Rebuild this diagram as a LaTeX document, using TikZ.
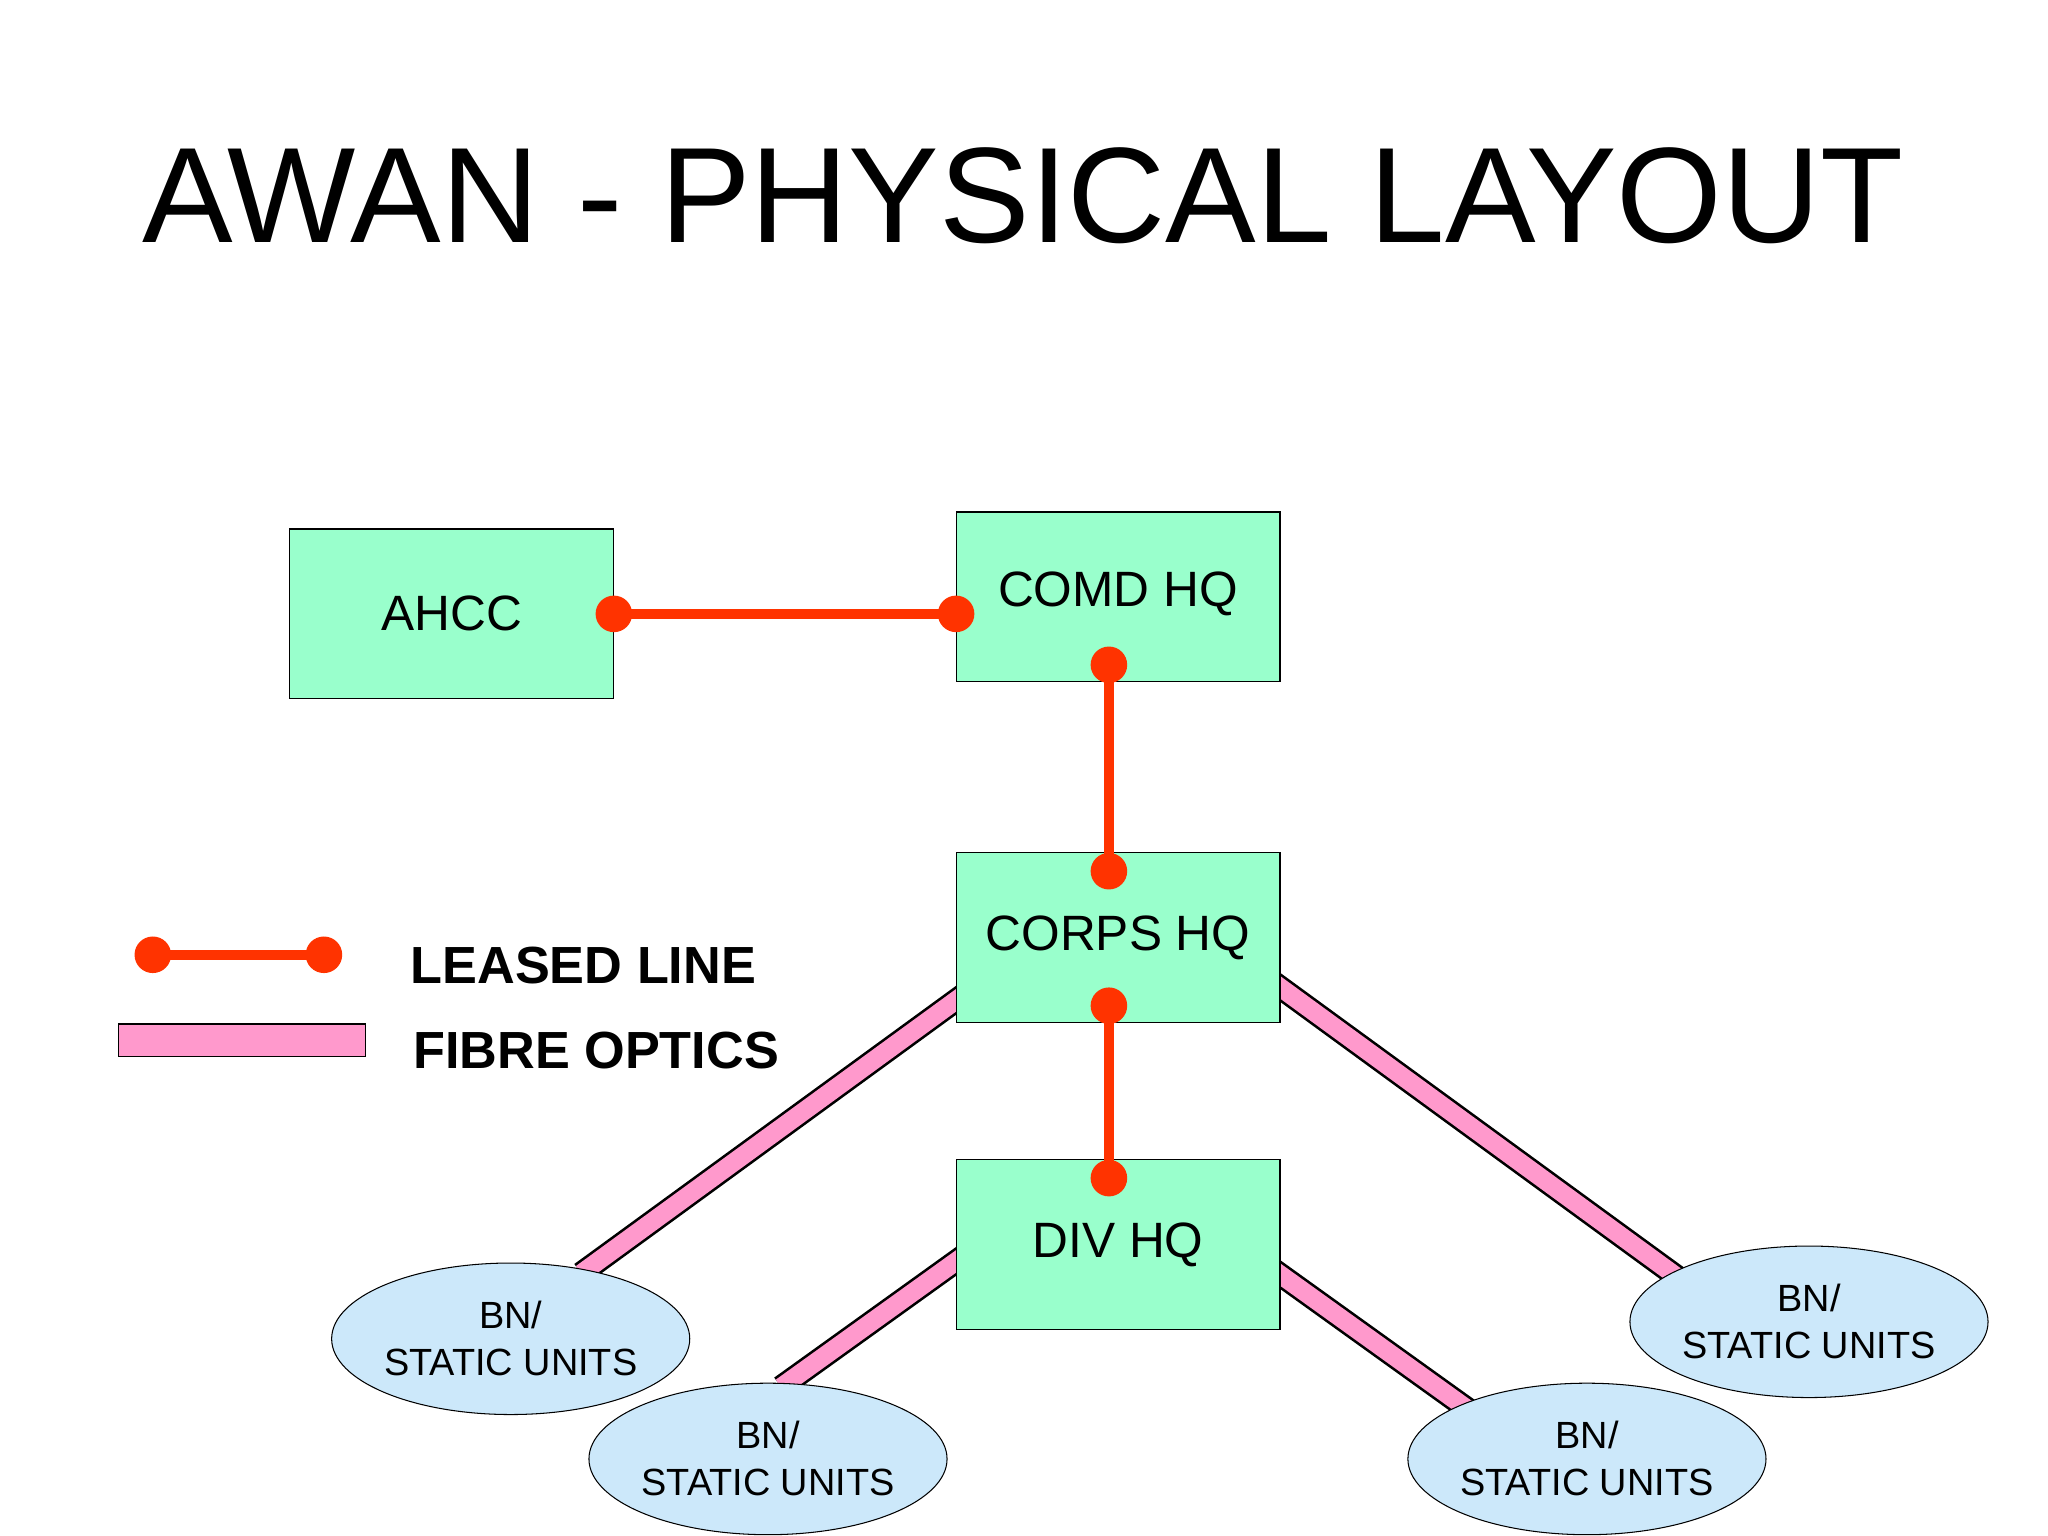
\documentclass[tikz,border=0pt]{standalone}
\usepackage{fontspec}
\setmainfont{Liberation Sans}
\usetikzlibrary{shapes.geometric}
\definecolor{boxg}{HTML}{99FFCC}
\definecolor{ellb}{HTML}{CCE8FA}
\definecolor{lred}{HTML}{FF3300}
\definecolor{fpink}{HTML}{FF99CC}
\tikzset{
 hq/.style={draw=black,fill=boxg,minimum width=124pt,minimum height=65pt,inner sep=0pt,font=\fontsize{19}{22}\selectfont},
 bn/.style={draw=black,fill=ellb,ellipse,minimum width=117pt,minimum height=58pt,inner sep=0pt,align=center,font=\fontsize{14.5}{18}\selectfont},
 leased/.style={draw=lred,line width=4pt},
 dot/.style={circle,fill=lred,minimum size=14pt,inner sep=0pt},
 fibreout/.style={draw=black,line width=9pt},
 fibrein/.style={draw=fpink,line width=7pt},
}
\begin{document}
\begin{tikzpicture}[x=0.5pt,y=-0.5pt]
\useasboundingbox (0,0) rectangle (1568,1176);
\node[font=\fontsize{52}{60}\selectfont] (title) at (783,150) {AWAN - PHYSICAL LAYOUT};
% fibre lines (behind)
\coordinate (f1a) at (740,760); \coordinate (f1b) at (445,975);
\coordinate (f2a) at (972,750); \coordinate (f2b) at (1290,982);
\coordinate (f3a) at (740,960); \coordinate (f3b) at (598,1062);
\coordinate (f4a) at (972,970); \coordinate (f4b) at (1128,1082);
\foreach \a/\b in {f1a/f1b,f2a/f2b,f3a/f3b,f4a/f4b}{
 \draw[fibreout] (\a) -- (\b); \draw[fibrein] (\a) -- (\b);}
\node[hq] (ahcc) at (346,470) {AHCC};
\node[hq] (comd) at (856,457) {\raisebox{6pt}{COMD HQ}};
\node[hq] (corps) at (856,718) {\raisebox{2pt}{CORPS HQ}};
\node[hq] (div) at (856,953) {DIV HQ};
\node[bn] (bn1) at (391,1025) {BN/\\STATIC UNITS};
\node[bn] (bn2) at (588,1117) {BN/\\STATIC UNITS};
\node[bn] (bn3) at (1385,1012) {BN/\\STATIC UNITS};
\node[bn] (bn4) at (1215,1117) {BN/\\STATIC UNITS};
% leased lines
\node[dot] (d1) at (470,470) {}; \node[dot] (d2) at (732,470) {};
\node[dot] (d3) at (849,509) {}; \node[dot] (d4) at (849,667) {};
\node[dot] (d5) at (849,770) {}; \node[dot] (d6) at (849,902) {};
\draw[leased] (d1.center) -- (d2.center);
\draw[leased] (d3.center) -- (d4.center);
\draw[leased] (d5.center) -- (d6.center);
% legend
\node[dot] (l1) at (117,731) {}; \node[dot] (l2) at (248,731) {};
\draw[leased] (l1.center) -- (l2.center);
\node[draw=black,fill=fpink,minimum width=94.5pt,minimum height=12.5pt,inner sep=0pt] (lf) at (185.5,796.5) {};
\node[anchor=west,font=\bfseries\fontsize{20}{24}\selectfont,inner sep=0pt] (t1) at (314,739) {LEASED LINE};
\node[anchor=west,font=\bfseries\fontsize{20}{24}\selectfont,inner sep=0pt] (t2) at (316,804) {FIBRE OPTICS};
\end{tikzpicture}
\end{document}
